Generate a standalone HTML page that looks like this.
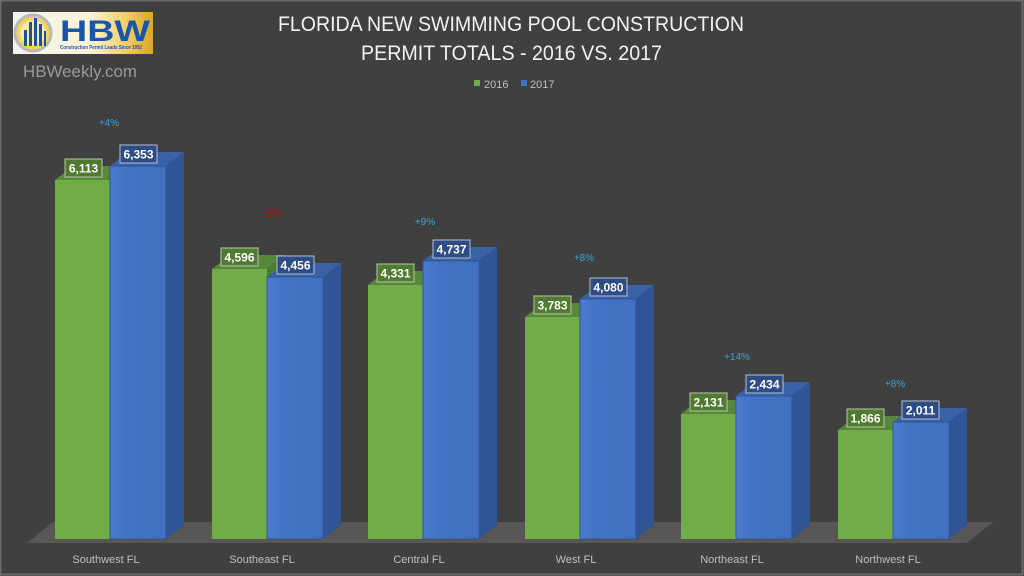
<!DOCTYPE html>
<html>
<head>
<meta charset="utf-8">
<style>
html,body{margin:0;padding:0;background:#404040;}
svg{display:block;}
text{font-family:"Liberation Sans",sans-serif;}
</style>
</head>
<body>
<svg width="1024" height="576" viewBox="0 0 1024 576" xmlns="http://www.w3.org/2000/svg">
<defs>
<linearGradient id="logoBg" x1="0" y1="0" x2="1" y2="0">
<stop offset="0" stop-color="#f4f4f0"/>
<stop offset="0.55" stop-color="#fbf3d6"/>
<stop offset="0.8" stop-color="#f2cf6a"/>
<stop offset="1" stop-color="#d9a628"/>
</linearGradient>
<linearGradient id="blueFront" x1="0" y1="0" x2="1" y2="0">
<stop offset="0" stop-color="#4a7bcf"/>
<stop offset="0.3" stop-color="#4472c4"/>
<stop offset="1" stop-color="#4270c0"/>
</linearGradient>
</defs>
<rect x="0" y="0" width="1024" height="576" fill="#404040"/>
<rect x="0.5" y="0.5" width="1022" height="574" fill="none" stroke="#6a6a6a" stroke-width="2"/>

<!-- Logo -->
<rect x="13" y="12" width="140" height="42" fill="url(#logoBg)"/>
<circle cx="33" cy="33" r="18" fill="#f3d35a" stroke="#b8b8b8" stroke-width="3"/>
<circle cx="33" cy="33" r="13" fill="#f7e9a8"/>
<rect x="24" y="30" width="3" height="16" fill="#1f4f9e"/>
<rect x="29" y="22" width="3" height="24" fill="#1f4f9e"/>
<rect x="34" y="18" width="3" height="28" fill="#1f4f9e"/>
<rect x="39" y="24" width="3" height="22" fill="#1f4f9e"/>
<rect x="44" y="31" width="2" height="15" fill="#1f4f9e"/>
<text x="60" y="41" font-size="30" font-weight="bold" fill="#1a56a8" textLength="90" lengthAdjust="spacingAndGlyphs">HBW</text>
<text x="60" y="49" font-size="5" font-weight="bold" fill="#1a56a8" textLength="82" lengthAdjust="spacingAndGlyphs">Construction Permit Leads Since 1992</text>
<text x="23" y="77" font-size="17" fill="#9a9a9a" textLength="114" lengthAdjust="spacingAndGlyphs">HBWeekly.com</text>

<!-- Title -->
<text x="278" y="31" font-size="21" fill="#f2f2f2" textLength="466" lengthAdjust="spacingAndGlyphs">FLORIDA NEW SWIMMING POOL CONSTRUCTION</text>
<text x="361" y="60" font-size="21" fill="#f2f2f2" textLength="301" lengthAdjust="spacingAndGlyphs">PERMIT TOTALS - 2016 VS. 2017</text>

<!-- Legend -->
<rect x="474" y="80" width="6" height="6" fill="#70ad47"/>
<text x="484" y="88" font-size="11" fill="#bfbfbf">2016</text>
<rect x="521" y="80" width="6" height="6" fill="#4472c4"/>
<text x="530" y="88" font-size="11" fill="#bfbfbf">2017</text>

<!-- Floor -->
<polygon points="27,543 967,543 993,522 53,522" fill="#595656"/>

<g id="bars">
<!-- Southwest -->
<polygon points="55,180 110,180 128,166 73,166" fill="#57873a"/>
<polygon points="110,180 128,166 128,525 110,539" fill="#4e7a32"/>
<rect x="55" y="180" width="55" height="359" fill="#70ad47"/>
<polygon points="110,166 166,166 184,152 128,152" fill="#3a62a8"/>
<polygon points="166,166 184,152 184,525 166,539" fill="#2f5597"/>
<rect x="110" y="166" width="56" height="373" fill="url(#blueFront)" stroke="#2f5597" stroke-width="1"/>

<!-- Southeast -->
<polygon points="212,269 267,269 285,255 230,255" fill="#57873a"/>
<polygon points="267,269 285,255 285,525 267,539" fill="#4e7a32"/>
<rect x="212" y="269" width="55" height="270" fill="#70ad47"/>
<polygon points="267,277 323,277 341,263 285,263" fill="#3a62a8"/>
<polygon points="323,277 341,263 341,525 323,539" fill="#2f5597"/>
<rect x="267" y="277" width="56" height="262" fill="url(#blueFront)" stroke="#2f5597" stroke-width="1"/>

<!-- Central -->
<polygon points="368,285 423,285 441,271 386,271" fill="#57873a"/>
<polygon points="423,285 441,271 441,525 423,539" fill="#4e7a32"/>
<rect x="368" y="285" width="55" height="254" fill="#70ad47"/>
<polygon points="423,261 479,261 497,247 441,247" fill="#3a62a8"/>
<polygon points="479,261 497,247 497,525 479,539" fill="#2f5597"/>
<rect x="423" y="261" width="56" height="278" fill="url(#blueFront)" stroke="#2f5597" stroke-width="1"/>

<!-- West -->
<polygon points="525,317 580,317 598,303 543,303" fill="#57873a"/>
<polygon points="580,317 598,303 598,525 580,539" fill="#4e7a32"/>
<rect x="525" y="317" width="55" height="222" fill="#70ad47"/>
<polygon points="580,299 636,299 654,285 598,285" fill="#3a62a8"/>
<polygon points="636,299 654,285 654,525 636,539" fill="#2f5597"/>
<rect x="580" y="299" width="56" height="240" fill="url(#blueFront)" stroke="#2f5597" stroke-width="1"/>

<!-- Northeast -->
<polygon points="681,414 736,414 754,400 699,400" fill="#57873a"/>
<polygon points="736,414 754,400 754,525 736,539" fill="#4e7a32"/>
<rect x="681" y="414" width="55" height="125" fill="#70ad47"/>
<polygon points="736,396 792,396 810,382 754,382" fill="#3a62a8"/>
<polygon points="792,396 810,382 810,525 792,539" fill="#2f5597"/>
<rect x="736" y="396" width="56" height="143" fill="url(#blueFront)" stroke="#2f5597" stroke-width="1"/>

<!-- Northwest -->
<polygon points="838,430 893,430 911,416 856,416" fill="#57873a"/>
<polygon points="893,430 911,416 911,525 893,539" fill="#4e7a32"/>
<rect x="838" y="430" width="55" height="109" fill="#70ad47"/>
<polygon points="893,422 949,422 967,408 911,408" fill="#3a62a8"/>
<polygon points="949,422 967,408 967,525 949,539" fill="#2f5597"/>
<rect x="893" y="422" width="56" height="117" fill="url(#blueFront)" stroke="#2f5597" stroke-width="1"/>
</g>

<!-- Value labels -->
<g font-size="12" font-weight="bold" fill="#ffffff" text-anchor="middle">
<rect x="65" y="159" width="37" height="18" fill="#4f7a30" stroke="#b9c7ac" stroke-width="1"/>
<text x="83.5" y="172.5">6,113</text>
<rect x="120" y="145" width="37" height="18" fill="#2e4c86" stroke="#b6bfd0" stroke-width="1"/>
<text x="138.5" y="158.5">6,353</text>

<rect x="221" y="248" width="37" height="18" fill="#4f7a30" stroke="#b9c7ac" stroke-width="1"/>
<text x="239.5" y="261.5">4,596</text>
<rect x="277" y="256" width="37" height="18" fill="#2e4c86" stroke="#b6bfd0" stroke-width="1"/>
<text x="295.5" y="269.5">4,456</text>

<rect x="377" y="264" width="37" height="18" fill="#4f7a30" stroke="#b9c7ac" stroke-width="1"/>
<text x="395.5" y="277.5">4,331</text>
<rect x="433" y="240" width="37" height="18" fill="#2e4c86" stroke="#b6bfd0" stroke-width="1"/>
<text x="451.5" y="253.5">4,737</text>

<rect x="534" y="296" width="37" height="18" fill="#4f7a30" stroke="#b9c7ac" stroke-width="1"/>
<text x="552.5" y="309.5">3,783</text>
<rect x="590" y="278" width="37" height="18" fill="#2e4c86" stroke="#b6bfd0" stroke-width="1"/>
<text x="608.5" y="291.5">4,080</text>

<rect x="690" y="393" width="37" height="18" fill="#4f7a30" stroke="#b9c7ac" stroke-width="1"/>
<text x="708.5" y="406.5">2,131</text>
<rect x="746" y="375" width="37" height="18" fill="#2e4c86" stroke="#b6bfd0" stroke-width="1"/>
<text x="764.5" y="388.5">2,434</text>

<rect x="847" y="409" width="37" height="18" fill="#4f7a30" stroke="#b9c7ac" stroke-width="1"/>
<text x="865.5" y="422.5">1,866</text>
<rect x="902" y="401" width="37" height="18" fill="#2e4c86" stroke="#b6bfd0" stroke-width="1"/>
<text x="920.5" y="414.5">2,011</text>
</g>

<!-- Percent labels -->
<g font-size="10" fill="#3aa3d4" text-anchor="middle">
<text x="109" y="126">+4%</text>
<text x="272" y="217" fill="#c00000">-3%</text>
<text x="425" y="225">+9%</text>
<text x="584" y="261">+8%</text>
<text x="737" y="360">+14%</text>
<text x="895" y="387">+8%</text>
</g>

<!-- Category labels -->
<g font-size="11" fill="#bfbfbf" text-anchor="middle">
<text x="106" y="563">Southwest FL</text>
<text x="262" y="563">Southeast FL</text>
<text x="419" y="563">Central FL</text>
<text x="576" y="563">West FL</text>
<text x="732" y="563">Northeast FL</text>
<text x="888" y="563">Northwest FL</text>
</g>
</svg>
</body>
</html>
